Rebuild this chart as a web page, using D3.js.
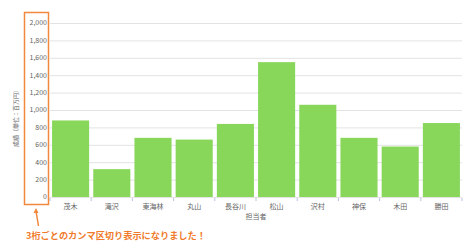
<!DOCTYPE html>
<html><head><meta charset="utf-8">
<script src="https://cdn.jsdelivr.net/npm/d3@7"></script>
<style>body{margin:0;background:#fff;}svg{display:block;font-family:"Noto Sans CJK JP","Noto Sans",sans-serif;}</style>
</head><body>
<script>
const categories = ["茂木","滝沢","東海林","丸山","長谷川","松山","沢村","神保","木田","勝田"];
const values = [880, 320, 680, 660, 840, 1550, 1060, 680, 580, 850];
const yTicks = [0,200,400,600,800,1000,1200,1400,1600,1800,2000];
const yTitle = "成績（単位：百万円）";
const xTitle = "担当者";
const note = "3桁ごとのカンマ区切り表示になりました！";

const W = 474, H = 241;
const svg = d3.select("body").append("svg").attr("width", W).attr("height", H);
const m = {left: 50, right: 12, top: 23, bottom: 44};
const x = d3.scaleBand().domain(categories).range([m.left, W - m.right]).paddingInner(0.1).paddingOuter(0.05);
const y = d3.scaleLinear().domain([0, 2000]).range([H - m.bottom, m.top]);
const fmt = d3.format(",");

// gridlines
svg.append("g").selectAll("line").data(yTicks).join("line")
  .attr("x1", m.left).attr("x2", W - m.right)
  .attr("y1", d => y(d) + 0.5).attr("y2", d => y(d) + 0.5)
  .attr("stroke", "#e3e3e3").attr("stroke-width", 1);

// y tick labels
svg.append("g").selectAll("text").data(yTicks).join("text")
  .attr("x", m.left - 3).attr("y", d => y(d)).attr("dy", "0.35em")
  .attr("text-anchor", "end").attr("font-size", 7).attr("fill", "#666")
  .text(d => fmt(d));

// bars
svg.append("g").selectAll("rect").data(values).join("rect")
  .attr("x", (d, i) => x(categories[i])).attr("width", x.bandwidth())
  .attr("y", d => y(d)).attr("height", d => y(0) - y(d))
  .attr("fill", "#88d75a");

// x ticks at band boundaries
const step = x.step();
const bounds = d3.range(categories.length + 1).map(i => x(categories[0]) - step * x.paddingInner() / 2 + i * step);
svg.append("g").selectAll("line").data(bounds).join("line")
  .attr("x1", d => d).attr("x2", d => d)
  .attr("y1", y(0) + 1).attr("y2", y(0) + 4)
  .attr("stroke", "#b9c0e0").attr("stroke-width", 1);

// x labels
svg.append("g").selectAll("text").data(categories).join("text")
  .attr("x", d => x(d) + x.bandwidth() / 2).attr("y", y(0) + 12)
  .attr("text-anchor", "middle").attr("font-size", 7).attr("fill", "#666")
  .text(d => d);

// axis titles
svg.append("text").attr("x", (m.left + W - m.right) / 2).attr("y", y(0) + 22)
  .attr("text-anchor", "middle").attr("font-size", 7).attr("fill", "#666").text(xTitle);
svg.append("text").attr("transform", `translate(18,117) rotate(-90)`)
  .attr("text-anchor", "middle").attr("font-size", 6).attr("fill", "#666").text(yTitle);

// annotation box
svg.append("rect").attr("x", 24.5).attr("y", 12.5).attr("width", 24).attr("height", 192)
  .attr("fill", "none").attr("stroke", "#f0883e").attr("stroke-width", 1.5);
// arrow
svg.append("line").attr("x1", 38.5).attr("y1", 226).attr("x2", 36).attr("y2", 211)
  .attr("stroke", "#f0883e").attr("stroke-width", 1.5);
svg.append("path").attr("d", "M36,208 L33.5,213 L38.5,213 Z").attr("fill", "#f0883e");
// note text
svg.append("text").attr("x", 26).attr("y", 239).attr("font-size", 9.2).attr("font-weight", 600)
  .attr("fill", "#f07a2a").text(note);
</script>
</body></html>
